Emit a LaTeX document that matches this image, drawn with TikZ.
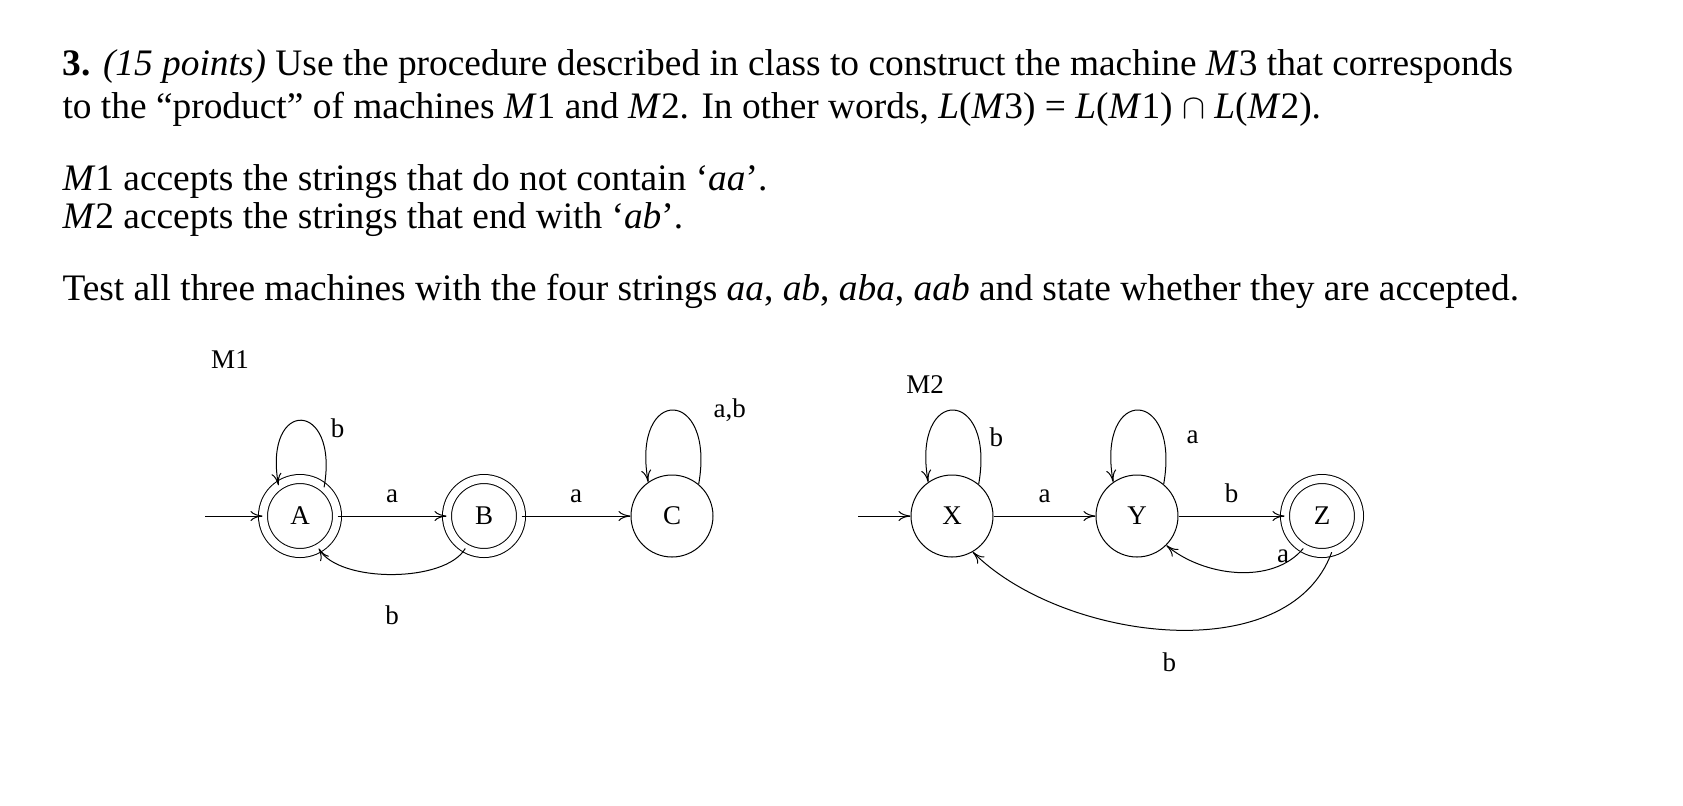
\documentclass[tikz,border=0pt]{standalone}
\usepackage{fontspec}
\setmainfont{Liberation Serif}
\usetikzlibrary{arrows.meta}
\begin{document}
\begin{tikzpicture}[x=0.5pt,y=-0.5pt,
  st/.style={circle,draw,minimum size=41pt,inner sep=0pt,font=\fontsize{13.5}{15}\selectfont},
  acc/.style={st,double,double distance=4pt,minimum size=37pt},
  lab/.style={font=\fontsize{13.5}{15}\selectfont},
  txt/.style={anchor=base west,inner sep=0pt,font=\fontsize{18.7}{22}\selectfont},
  tr/.style={-{To[length=6pt,width=5pt]},line width=0.5pt},
  every path/.style={line width=0.5pt}]
\useasboundingbox (0,0) rectangle (1683,805);
\node[txt] (l1) at (62,75) {\textbf{3.} \textit{(15 points)} Use the procedure described in class to construct the machine \textit{M}3 that corresponds};
\node[txt] (l2) at (62,118) {to the ``product'' of machines \textit{M}1 and \textit{M}2. In other words, \textit{L}(\textit{M}3) = \textit{L}(\textit{M}1) $\cap$ \textit{L}(\textit{M}2).};
\node[txt] (l3) at (62,190) {\textit{M}1 accepts the strings that do not contain `\textit{aa}'.};
\node[txt] (l4) at (62,228) {\textit{M}2 accepts the strings that end with `\textit{ab}'.};
\node[txt] (l5) at (62,300) {Test all three machines with the four strings \textit{aa}, \textit{ab}, \textit{aba}, \textit{aab} and state whether they are accepted.};

\node[lab] (m1) at (230,360) {M1};
\node[lab] (m2) at (925,385) {M2};
\node[acc] (A) at (300,516) {A};
\node[acc] (B) at (484,516) {B};
\node[st] (C) at (672,516) {C};
\node[st] (X) at (952,516) {X};
\node[st] (Y) at (1137,516) {Y};
\node[acc] (Z) at (1322,516) {Z};
\coordinate (s1) at (205,516);
\coordinate (s2) at (858,516);
\draw[tr] (s1) -- (A);
\draw[tr] (s2) -- (X);
\draw[tr] (A) -- node[lab,above=3pt]{a} (B);
\draw[tr] (B) -- node[lab,above=3pt]{a} (C);
\draw[tr] (B) to[out=-120,in=-60,looseness=0.7] node[lab,below=12pt]{b} (A);
\draw[tr] (A.50) to[out=80,in=100,looseness=5] node[lab,pos=0.2,above right=0pt]{b} (A.125);
\draw[tr] (C.50) to[out=80,in=100,looseness=5] node[lab,pos=0.2,above right=4pt]{a,b} (C.125);
\draw[tr] (X) -- node[lab,above=3pt]{a} (Y);
\draw[tr] (Y) -- node[lab,above=3pt]{b} (Z);
\draw[tr] (X.50) to[out=80,in=100,looseness=5] node[lab,pos=0.2,right=2pt]{b} (X.125);
\draw[tr] (Y.50) to[out=80,in=100,looseness=5] node[lab,pos=0.2,right=8pt]{a} (Y.125);
\draw[tr] (Z.-120) to[out=-130,in=-40,looseness=0.9] node[lab,above=0pt,xshift=8pt,pos=0.3]{a} (Y.-45);
\draw[tr] (Z.-75) to[out=-110,in=-45,looseness=0.9] node[lab,below=8pt]{b} (X.-60);
\end{tikzpicture}
\end{document}
